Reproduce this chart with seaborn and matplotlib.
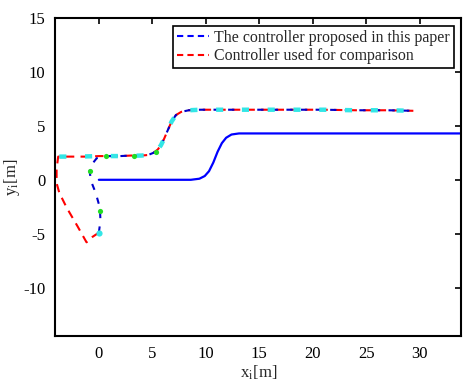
import matplotlib
matplotlib.use('Agg')
import matplotlib.pyplot as plt
import seaborn as sns
import pandas as pd

# reference path (solid blue)
ref_x = [0.0, 8.6, 9.4, 9.9, 10.3, 10.7, 11.1, 11.5, 11.9, 12.4, 13.1, 34.0]
ref_y = [0.0, 0.0, 0.1, 0.35, 0.8, 1.6, 2.6, 3.4, 3.9, 4.2, 4.3, 4.3]

# proposed controller (blue dashed)
prop_x = [0.0, 0.15, 0.1, -0.3, -0.7, -0.87, -0.6, -0.2, 0.3, 1.0, 2.0, 3.0, 4.0, 4.6,
          5.1, 5.5, 5.8, 6.1, 6.4, 6.8, 7.2, 7.7, 8.4, 9.5, 12.0, 15.0, 18.0, 21.0,
          24.0, 27.0, 29.4]
prop_y = [-4.9, -3.8, -2.6, -1.2, -0.2, 0.8, 1.5, 2.0, 2.15, 2.2, 2.2, 2.25, 2.25, 2.3,
          2.5, 2.8, 3.2, 3.8, 4.5, 5.4, 6.0, 6.3, 6.45, 6.5, 6.5, 6.5, 6.5, 6.5,
          6.45, 6.45, 6.4]

# comparison controller (red dashed)
comp_x = [0.0, -0.6, -1.15, -2.0, -3.0, -3.7, -3.95, -3.95, -3.8, -3.0, -2.0, -1.0, 0.0,
          1.0, 2.0, 3.0, 4.0, 4.6, 5.1, 5.5, 5.8, 6.1, 6.4, 6.8, 7.2, 7.7, 8.4, 9.5,
          12.0, 15.0, 18.0, 21.0, 24.0, 27.0, 29.4]
comp_y = [-4.9, -5.3, -5.8, -4.3, -2.6, -1.2, -0.3, 1.0, 2.15, 2.15, 2.15, 2.15, 2.2,
          2.2, 2.2, 2.25, 2.25, 2.3, 2.5, 2.8, 3.2, 3.8, 4.5, 5.4, 6.0, 6.3, 6.45, 6.5,
          6.5, 6.5, 6.5, 6.5, 6.45, 6.45, 6.4]

# highlighted follower track (cyan dots) and green spots
cyan_x = [-3.7, -2.0, 0.0, 2.0, 4.0, 4.6, 5.1, 5.5, 5.8, 6.1, 6.4, 6.8, 7.2, 7.7, 8.4,
          9.5, 12.0, 15.0, 18.0, 21.0, 24.0, 27.0, 29.4]
cyan_y = [2.15, 2.15, 2.2, 2.2, 2.25, 2.3, 2.5, 2.8, 3.2, 3.8, 4.5, 5.4, 6.0, 6.3, 6.45,
          6.5, 6.5, 6.5, 6.5, 6.5, 6.45, 6.45, 6.4]
green_x = [0.1, -0.87, 0.7, 3.3, 5.3]
green_y = [-2.9, 0.8, 2.2, 2.25, 2.6]

legend_labels = ['The controller proposed in this paper', 'Controller used for comparison']

sns.set_style('white')
plt.rcParams['font.family'] = ['Liberation Serif', 'DejaVu Serif']
plt.rcParams['mathtext.fontset'] = 'stix'
plt.rcParams['axes.unicode_minus'] = False

fig = plt.figure(figsize=(4.74, 3.85), dpi=100)
ax = fig.add_axes([0.116, 0.127, 0.8576, 0.826])

ref = pd.DataFrame({'x': ref_x, 'y': ref_y})
prop = pd.DataFrame({'x': prop_x, 'y': prop_y})
comp = pd.DataFrame({'x': comp_x, 'y': comp_y})
cyan = pd.DataFrame({'x': cyan_x, 'y': cyan_y})

sns.lineplot(data=ref, x='x', y='y', sort=False, estimator=None, color='#0000ff', lw=1.6, ax=ax)
sns.lineplot(data=comp, x='x', y='y', sort=False, estimator=None, color='#ff0000', lw=1.5,
             ax=ax).lines[-1].set_dashes([4, 3])
sns.lineplot(data=prop, x='x', y='y', sort=False, estimator=None, color='#0000cc', lw=1.5,
             ax=ax).lines[-1].set_dashes([3, 4])
sns.lineplot(data=cyan, x='x', y='y', sort=False, estimator=None, color='#33e6e6', lw=3.2,
             ax=ax).lines[-1].set_dashes([1.6, 4.2])
ax.scatter(green_x, green_y, color='#22dd22', s=14, zorder=5, lw=0)
ax.scatter([0.05], [-4.9], color='#33e6e6', s=20, zorder=5, lw=0)

h1, = ax.plot([], [], color='#0000ff', lw=1.5, dashes=[3, 2])
h2, = ax.plot([], [], color='#ff0000', lw=1.5, dashes=[3, 2])
leg = ax.legend([h1, h2], legend_labels, loc='upper right', fontsize=11.4,
                frameon=True, fancybox=False, edgecolor='black', framealpha=1,
                handlelength=2.0, handletextpad=0.3, borderpad=0.25, labelspacing=0.15,
                borderaxespad=0.5)
leg.get_frame().set_linewidth(1.2)

ax.set_xlim(-4.1, 33.9)
ax.set_ylim(-14.5, 15)
ax.set_xticks([0, 5, 10, 15, 20, 25, 30])
ax.set_yticks([-10, -5, 0, 5, 10, 15])
ax.set_xlabel(r'x$_{\rm i}$[m]', fontsize=12, labelpad=1)
ax.set_ylabel(r'y$_{\rm i}$[m]', fontsize=12, labelpad=1)
ax.tick_params(direction='in', length=4, width=1.2, top=True, right=True,
               labelsize=12, pad=7, colors='black')
for s in ax.spines.values():
    s.set_linewidth(1.5)
    s.set_color('black')

fig.savefig('out.png', dpi=100)
